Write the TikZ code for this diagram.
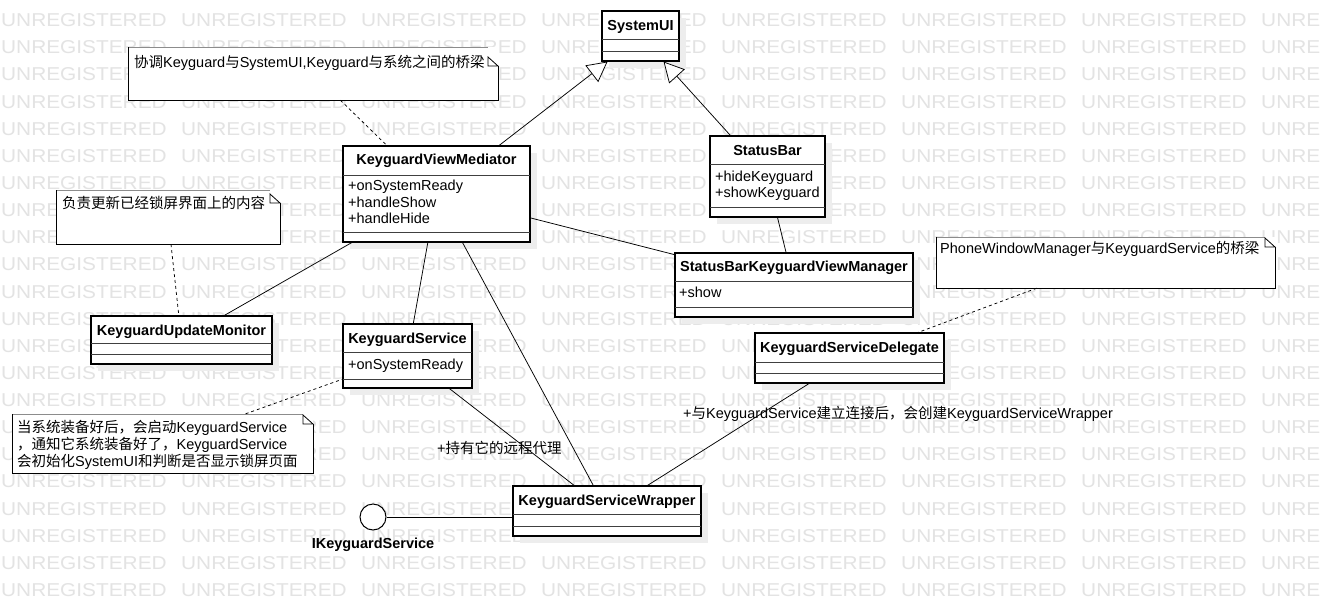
\documentclass[tikz,border=0pt]{standalone}
\usepackage{fontspec}
\usepackage{graphicx}
\setmainfont{Liberation Sans}
\newfontfamily\cjk{Noto Sans CJK SC}
\usetikzlibrary{arrows.meta}

\newcommand\fsz{\fontsize{14.5pt}{17pt}\selectfont}
\newcommand\zh[1]{{\cjk #1}}

\tikzset{
  classnode/.style={draw=black, line width=1.1pt, fill=white, inner sep=0pt, rectangle},
  notenode/.style={fill=white, inner sep=0pt, rectangle},
  noteline/.style={line width=0.9pt, draw=black},
  divline/.style={line width=0.9pt, draw=black!75},
  titletext/.style={font=\fsz\bfseries, inner sep=0pt, anchor=base},
  attrtext/.style={font=\fsz, inner sep=0pt, anchor=base west},
  assoc/.style={line width=0.75pt, draw=black},
  notelink/.style={line width=0.75pt, draw=black, dash pattern=on 3pt off 3pt},
  general/.style={line width=0.75pt, draw=black, -{Triangle[open, length=20pt, width=21pt, fill=white]}},
  shadowc/.style={fill=black!7},
  wm/.style={font=\fontsize{18.6pt}{20pt}\selectfont, text=black!11, inner sep=0pt, anchor=base west},
}

% name, x1, y1, x2, y2, div1, div2, title, title baseline
\newcommand\umlclass[9]{%
  \fill[shadowc] ({#2+7},{#3+7}) rectangle ({#4+7},{#5+7});
  \node[classnode, minimum width={(#4-#2)*1pt}, minimum height={(#5-#3)*1pt}] (#1) at ({(#2+#4)/2},{(#3+#5)/2}) {};
  \draw[divline] (#2,#6) -- (#4,#6);
  \draw[divline] (#2,#7) -- (#4,#7);
  \node[titletext] (#1-title) at ({(#2+#4)/2},#9) {#8};
}

% name, x1, y1, x2, y2, fold top
\newcommand\umlnote[6]{%
  \node[notenode, minimum width={(#4-#2)*1pt}, minimum height={(#5-#3)*1pt}] (#1) at ({(#2+#4)/2},{(#3+#5)/2}) {};
  \draw[line width=0.8pt, black!45] (#2,#3) -- ({#4-10},#3);
  \draw[noteline] (#2,#3) -- (#2,#5) -- (#4,#5) -- (#4,{#6+9});
  \draw[line width=0.8pt] ({#4-10},#6) -- ({#4-10},{#6+9}) -- (#4,{#6+9}) -- cycle;
}

\begin{document}
\begin{tikzpicture}[x=1pt, y=-1pt]
\useasboundingbox (0,0) rectangle (1320,603);
\fill[white] (0,0) rectangle (1320,603);

% watermark
\begin{scope}
\clip (0,0) rectangle (1320,603);
\foreach \k in {0,...,21} {
  \foreach \j in {0,...,7} {
    \node[wm] (wm-\k-\j) at ({180*\j+1},{26.7+27.13*\k}) {\scalebox{1.12}[1]{UNREGISTERED}};
  }
}
\end{scope}

% classes
\umlclass{sysui}{602}{11}{679}{61}{39}{51}{SystemUI}{30}
\umlclass{kvm}{343}{146}{530}{242}{175}{232}{KeyguardViewMediator}{164}
\umlclass{sb}{710}{136}{825}{217}{164}{207}{StatusBar}{155.5}
\umlclass{sbkvm}{675}{253}{913}{317}{281}{307}{StatusBarKeyguardViewManager}{271.5}
\umlclass{ksd}{755}{333}{944}{383}{362}{373}{KeyguardServiceDelegate}{352}
\umlclass{kum}{91}{316}{272}{364}{343}{354}{KeyguardUpdateMonitor}{335}
\umlclass{ks}{343}{324}{472}{388}{352}{379}{KeyguardService}{343}
\umlclass{ksw}{513}{486}{701}{536}{514}{526}{KeyguardServiceWrapper}{505}

% attributes
\node[attrtext] (kvm-a1) at (348,190.5) {+onSystemReady};
\node[attrtext] (kvm-a2) at (348,207) {+handleShow};
\node[attrtext] (kvm-a3) at (348,223.5) {+handleHide};
\node[attrtext] (sb-a1) at (715,181) {+hideKeyguard};
\node[attrtext] (sb-a2) at (715,197.5) {+showKeyguard};
\node[attrtext] (sbkvm-a1) at (679,297.5) {+show};
\node[attrtext] (ks-a1) at (348,369) {+onSystemReady};

% notes
\umlnote{n1}{128}{47}{498}{100}{57}
\umlnote{n2}{56}{190}{280}{244}{194}
\umlnote{n3}{12}{414}{313}{473}{415}
\umlnote{n4}{936}{237}{1275}{288}{238}

\node[attrtext] (n1-text) at (134,67) {\zh{协调}Keyguard\zh{与}SystemUI,Keyguard\zh{与系统之间的桥梁}};
\node[attrtext] (n2-text) at (62,208) {\zh{负责更新已经锁屏界面上的内容}};
\node[attrtext] (n3-l1) at (17,432) {\zh{当系统装备好后，会启动}KeyguardService};
\node[attrtext] (n3-l2) at (17,449) {\zh{，通知它系统装备好了，}KeyguardService};
\node[attrtext] (n3-l3) at (17,466) {\zh{会初始化}SystemUI\zh{和判断是否显示锁屏页面}};
\node[attrtext] (n4-text) at (940,253) {PhoneWindowManager\zh{与}KeyguardService\zh{的桥梁}};

% interface
\node[draw=black, line width=1pt, fill=white, circle, minimum size=26pt, inner sep=0pt] (iface) at (373,517) {};
\node[titletext] (iface-label) at (373,548) {IKeyguardService};

% connectors
\draw[general] (kvm) -- (sysui);
\draw[general] (sb) -- (sysui);
\draw[assoc] (kvm) -- (kum);
\draw[assoc] (kvm) -- (ks);
\draw[assoc] (kvm) -- (ksw);
\draw[assoc] (kvm) -- (sbkvm);
\draw[assoc] (sb) -- (sbkvm);
\draw[assoc] (ks) -- (ksw);
\draw[assoc] (ksd) -- (ksw);
\draw[assoc] (iface) -- (iface -| ksw.west);
\draw[notelink] (n1) -- (kvm);
\draw[notelink] (n2) -- (kum);
\draw[notelink] (n3) -- (ks);
\draw[notelink] (n4) -- (ksd);

% connector labels
\node[attrtext] (lbl-remote) at (437,453) {+\zh{持有它的远程代理}};
\node[attrtext] (lbl-create) at (683,418) {+\zh{与}KeyguardService\zh{建立连接后，会创建}KeyguardServiceWrapper};
\end{tikzpicture}
\end{document}
